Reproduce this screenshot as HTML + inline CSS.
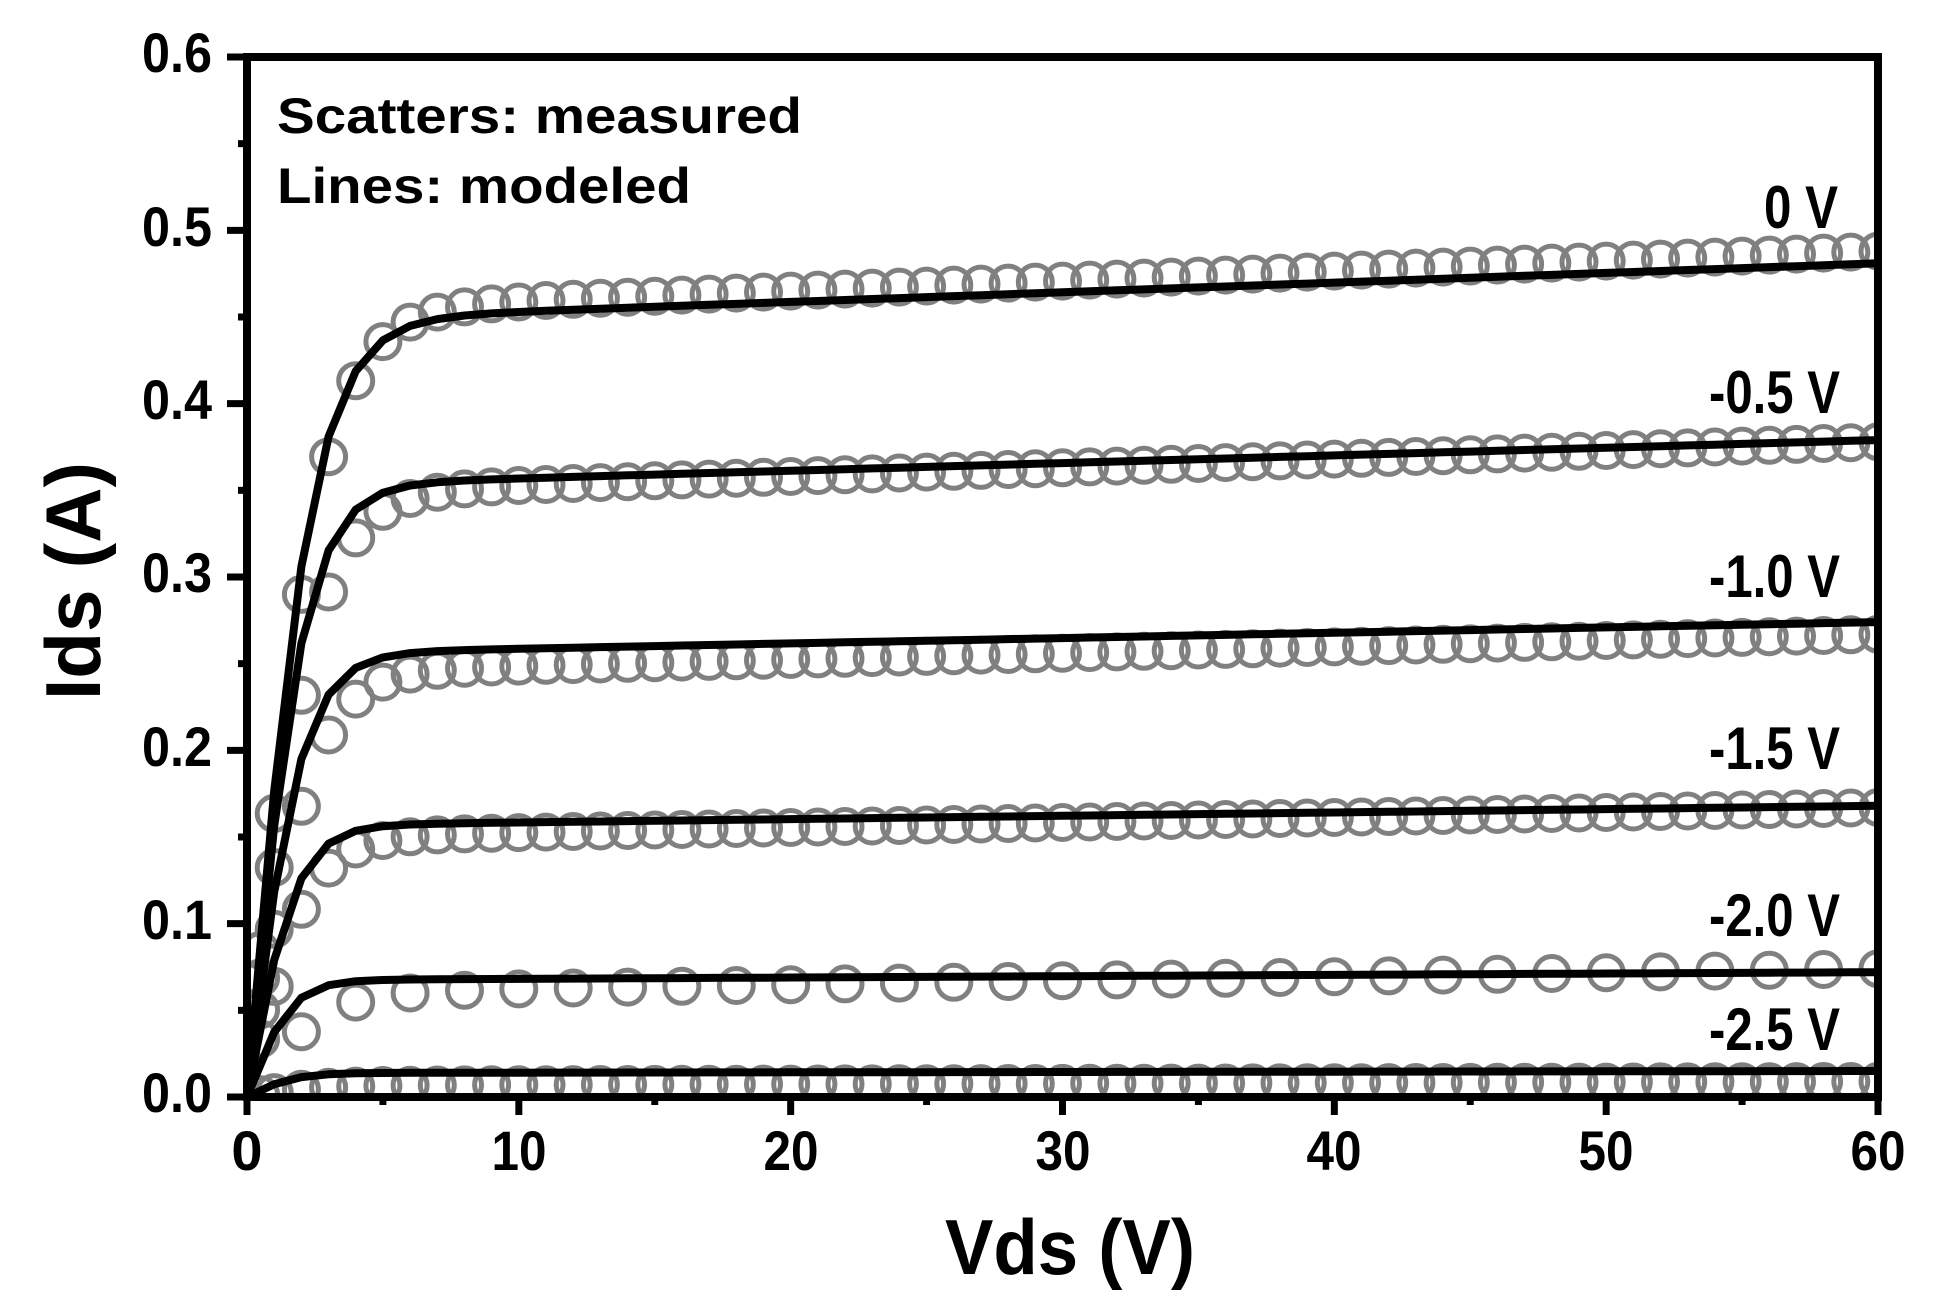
<!DOCTYPE html>
<html><head><meta charset="utf-8"><style>
html,body{margin:0;padding:0;background:#fff;}
svg{display:block;}
text{font-family:"Liberation Sans",Arial,sans-serif;font-weight:bold;fill:#000;}
</style></head><body>
<svg id="s" width="1942" height="1302" viewBox="0 0 1942 1302" xmlns="http://www.w3.org/2000/svg">
<defs><clipPath id="c"><rect x="247" y="57" width="1631" height="1040"/></clipPath></defs>
<g id="scat" clip-path="url(#c)" fill="none" stroke="#808080" stroke-width="5"></g>
<g id="lines" clip-path="url(#c)" fill="none" stroke="#000" stroke-width="8" stroke-linejoin="round"></g>
<rect x="247" y="57" width="1631" height="1040" fill="none" stroke="#000" stroke-width="8"/>
<g id="ticks" stroke="#000" stroke-width="7"></g>
<g font-size="56" text-anchor="end">
<text x="212" y="1112" textLength="70" lengthAdjust="spacingAndGlyphs">0.0</text>
<text x="212" y="939" textLength="70" lengthAdjust="spacingAndGlyphs">0.1</text>
<text x="212" y="766" textLength="70" lengthAdjust="spacingAndGlyphs">0.2</text>
<text x="212" y="592" textLength="70" lengthAdjust="spacingAndGlyphs">0.3</text>
<text x="212" y="419" textLength="70" lengthAdjust="spacingAndGlyphs">0.4</text>
<text x="212" y="246" textLength="70" lengthAdjust="spacingAndGlyphs">0.5</text>
<text x="212" y="72" textLength="70" lengthAdjust="spacingAndGlyphs">0.6</text>
</g>
<g font-size="56" text-anchor="middle">
<text x="247" y="1170">0</text>
<text x="519" y="1170" textLength="55" lengthAdjust="spacingAndGlyphs">10</text>
<text x="791" y="1170" textLength="55" lengthAdjust="spacingAndGlyphs">20</text>
<text x="1063" y="1170" textLength="55" lengthAdjust="spacingAndGlyphs">30</text>
<text x="1334" y="1170" textLength="55" lengthAdjust="spacingAndGlyphs">40</text>
<text x="1606" y="1170" textLength="55" lengthAdjust="spacingAndGlyphs">50</text>
<text x="1878" y="1170" textLength="55" lengthAdjust="spacingAndGlyphs">60</text>
</g>
<text x="277" y="133" font-size="50" textLength="525" lengthAdjust="spacingAndGlyphs">Scatters: measured</text>
<text x="277" y="203" font-size="50" textLength="414" lengthAdjust="spacingAndGlyphs">Lines: modeled</text>
<g font-size="60" text-anchor="end">
<text x="1838" y="228" textLength="74" lengthAdjust="spacingAndGlyphs">0 V</text>
<text x="1840" y="413" textLength="131" lengthAdjust="spacingAndGlyphs">-0.5 V</text>
<text x="1840" y="597" textLength="131" lengthAdjust="spacingAndGlyphs">-1.0 V</text>
<text x="1840" y="769" textLength="131" lengthAdjust="spacingAndGlyphs">-1.5 V</text>
<text x="1840" y="936" textLength="131" lengthAdjust="spacingAndGlyphs">-2.0 V</text>
<text x="1840" y="1050" textLength="131" lengthAdjust="spacingAndGlyphs">-2.5 V</text>
</g>
<text x="1070" y="1274" font-size="78" text-anchor="middle" textLength="250" lengthAdjust="spacingAndGlyphs">Vds (V)</text>
<text transform="translate(100,581) rotate(-90)" font-size="78" text-anchor="middle" textLength="238" lengthAdjust="spacingAndGlyphs">Ids (A)</text>
</svg>
<script>
(function(){
var NS="http://www.w3.org/2000/svg";
function X(v){return 247+v*1631/60;}
function Y(i){return 1097-i*1040/0.6;}
function el(p,n,a){var e=document.createElementNS(NS,n);for(var k in a)e.setAttribute(k,a[k]);p.appendChild(e);return e;}
var tk=document.getElementById('ticks');
for(var v=0;v<=60;v+=5){var maj=v%10==0;el(tk,'line',{x1:X(v),y1:1097,x2:X(v),y2:1097+(maj?18:8)});}
for(var j=0;j<=12;j++){var i=j*0.05;var maj=j%2==0;el(tk,'line',{x1:247,y1:Y(i),x2:247-(maj?20:9),y2:Y(i)});}
function f(x,i8,i60,vk){var B=(i60-i8)/52,A=i8-8*B;return (A+B*x)*Math.tanh(x/vk);}
var L=[[0.452,0.481,2.4],[0.356,0.379,2.1],[0.258,0.274,2.0],[0.158,0.168,1.8],[0.068,0.072,1.6],[0.014,0.015,1.7]];
var S=[[0.458,0.488,2.65,1],[0.352,0.378,2.5,1],[0.248,0.267,2.4,1],[0.152,0.167,2.2,1],[0.062,0.074,2.75,2],[0.007,0.009,2.5,1]];
var lg=document.getElementById('lines'),sg=document.getElementById('scat');
L.forEach(function(c){var d='';for(var x=0;x<=60;x++){d+=(x?'L':'M')+X(x).toFixed(1)+','+Y(f(x,c[0],c[1],c[2])).toFixed(1);}el(lg,'path',{d:d});});
S.forEach(function(c){var xs=[];if(c[3]==1){xs.push(0.5);for(var x=1;x<=60;x++)xs.push(x);}else{for(var x=2;x<=60;x+=2)xs.push(x);}
xs.forEach(function(x){el(sg,'circle',{cx:X(x).toFixed(1),cy:Y(f(x,c[0],c[1],c[2])).toFixed(1),r:17});});});
})();
</script>
</body></html>
